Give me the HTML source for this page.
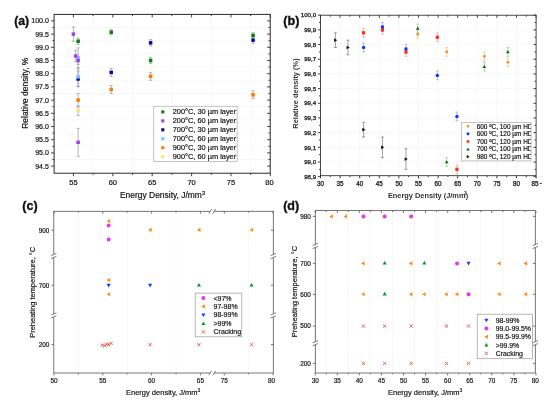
<!DOCTYPE html>
<html><head><meta charset="utf-8"><title>Figure</title>
<style>html,body{margin:0;padding:0;background:#fff}body{width:550px;height:402px;overflow:hidden}svg{display:block;filter:blur(0.4px)}</style>
</head><body>
<svg width="550" height="402" viewBox="0 0 550 402" font-family='"Liberation Sans", Arial, sans-serif'>
<rect width="550" height="402" fill="#fff"/>
<line x1="93.10" y1="14.40" x2="93.10" y2="173.20" stroke="#f1f1f1" stroke-width="0.6" />
<line x1="132.50" y1="14.40" x2="132.50" y2="173.20" stroke="#f1f1f1" stroke-width="0.6" />
<line x1="171.90" y1="14.40" x2="171.90" y2="173.20" stroke="#f1f1f1" stroke-width="0.6" />
<line x1="211.30" y1="14.40" x2="211.30" y2="173.20" stroke="#f1f1f1" stroke-width="0.6" />
<line x1="250.70" y1="14.40" x2="250.70" y2="173.20" stroke="#f1f1f1" stroke-width="0.6" />
<line x1="54.10" y1="27.50" x2="270.20" y2="27.50" stroke="#f1f1f1" stroke-width="0.6" />
<line x1="54.10" y1="40.70" x2="270.20" y2="40.70" stroke="#f1f1f1" stroke-width="0.6" />
<line x1="54.10" y1="53.90" x2="270.20" y2="53.90" stroke="#f1f1f1" stroke-width="0.6" />
<line x1="54.10" y1="67.10" x2="270.20" y2="67.10" stroke="#f1f1f1" stroke-width="0.6" />
<line x1="54.10" y1="80.30" x2="270.20" y2="80.30" stroke="#f1f1f1" stroke-width="0.6" />
<line x1="54.10" y1="93.50" x2="270.20" y2="93.50" stroke="#f1f1f1" stroke-width="0.6" />
<line x1="54.10" y1="106.70" x2="270.20" y2="106.70" stroke="#f1f1f1" stroke-width="0.6" />
<line x1="54.10" y1="119.90" x2="270.20" y2="119.90" stroke="#f1f1f1" stroke-width="0.6" />
<line x1="54.10" y1="133.10" x2="270.20" y2="133.10" stroke="#f1f1f1" stroke-width="0.6" />
<line x1="54.10" y1="146.30" x2="270.20" y2="146.30" stroke="#f1f1f1" stroke-width="0.6" />
<line x1="54.10" y1="159.50" x2="270.20" y2="159.50" stroke="#f1f1f1" stroke-width="0.6" />
<rect x="54.1" y="14.4" width="216.1" height="158.79999999999998" fill="none" stroke="#2a2a2a" stroke-width="1"/>
<line x1="73.40" y1="173.20" x2="73.40" y2="176.20" stroke="#2a2a2a" stroke-width="0.9" />
<line x1="73.40" y1="14.40" x2="73.40" y2="17.40" stroke="#2a2a2a" stroke-width="0.9" />
<text x="73.40" y="184.80" font-size="7.5" text-anchor="middle" font-weight="normal" fill="#111"  stroke="#111" stroke-width="0.18">55</text>
<line x1="93.10" y1="173.20" x2="93.10" y2="174.90" stroke="#2a2a2a" stroke-width="0.9" />
<line x1="93.10" y1="14.40" x2="93.10" y2="16.10" stroke="#2a2a2a" stroke-width="0.9" />
<line x1="112.80" y1="173.20" x2="112.80" y2="176.20" stroke="#2a2a2a" stroke-width="0.9" />
<line x1="112.80" y1="14.40" x2="112.80" y2="17.40" stroke="#2a2a2a" stroke-width="0.9" />
<text x="112.80" y="184.80" font-size="7.5" text-anchor="middle" font-weight="normal" fill="#111"  stroke="#111" stroke-width="0.18">60</text>
<line x1="132.50" y1="173.20" x2="132.50" y2="174.90" stroke="#2a2a2a" stroke-width="0.9" />
<line x1="132.50" y1="14.40" x2="132.50" y2="16.10" stroke="#2a2a2a" stroke-width="0.9" />
<line x1="152.20" y1="173.20" x2="152.20" y2="176.20" stroke="#2a2a2a" stroke-width="0.9" />
<line x1="152.20" y1="14.40" x2="152.20" y2="17.40" stroke="#2a2a2a" stroke-width="0.9" />
<text x="152.20" y="184.80" font-size="7.5" text-anchor="middle" font-weight="normal" fill="#111"  stroke="#111" stroke-width="0.18">65</text>
<line x1="171.90" y1="173.20" x2="171.90" y2="174.90" stroke="#2a2a2a" stroke-width="0.9" />
<line x1="171.90" y1="14.40" x2="171.90" y2="16.10" stroke="#2a2a2a" stroke-width="0.9" />
<line x1="191.60" y1="173.20" x2="191.60" y2="176.20" stroke="#2a2a2a" stroke-width="0.9" />
<line x1="191.60" y1="14.40" x2="191.60" y2="17.40" stroke="#2a2a2a" stroke-width="0.9" />
<text x="191.60" y="184.80" font-size="7.5" text-anchor="middle" font-weight="normal" fill="#111"  stroke="#111" stroke-width="0.18">70</text>
<line x1="211.30" y1="173.20" x2="211.30" y2="174.90" stroke="#2a2a2a" stroke-width="0.9" />
<line x1="211.30" y1="14.40" x2="211.30" y2="16.10" stroke="#2a2a2a" stroke-width="0.9" />
<line x1="231.00" y1="173.20" x2="231.00" y2="176.20" stroke="#2a2a2a" stroke-width="0.9" />
<line x1="231.00" y1="14.40" x2="231.00" y2="17.40" stroke="#2a2a2a" stroke-width="0.9" />
<text x="231.00" y="184.80" font-size="7.5" text-anchor="middle" font-weight="normal" fill="#111"  stroke="#111" stroke-width="0.18">75</text>
<line x1="250.70" y1="173.20" x2="250.70" y2="174.90" stroke="#2a2a2a" stroke-width="0.9" />
<line x1="250.70" y1="14.40" x2="250.70" y2="16.10" stroke="#2a2a2a" stroke-width="0.9" />
<line x1="270.40" y1="173.20" x2="270.40" y2="176.20" stroke="#2a2a2a" stroke-width="0.9" />
<line x1="270.40" y1="14.40" x2="270.40" y2="17.40" stroke="#2a2a2a" stroke-width="0.9" />
<text x="269.40" y="184.80" font-size="7.5" text-anchor="middle" font-weight="normal" fill="#111"  stroke="#111" stroke-width="0.18">80</text>
<line x1="51.10" y1="166.10" x2="54.10" y2="166.10" stroke="#2a2a2a" stroke-width="0.9" />
<line x1="267.20" y1="166.10" x2="270.20" y2="166.10" stroke="#2a2a2a" stroke-width="0.9" />
<text x="48.80" y="168.60" font-size="7.0" text-anchor="end" font-weight="normal" fill="#111"  stroke="#111" stroke-width="0.18">94.5</text>
<line x1="52.40" y1="159.50" x2="54.10" y2="159.50" stroke="#2a2a2a" stroke-width="0.9" />
<line x1="268.50" y1="159.50" x2="270.20" y2="159.50" stroke="#2a2a2a" stroke-width="0.9" />
<line x1="51.10" y1="152.90" x2="54.10" y2="152.90" stroke="#2a2a2a" stroke-width="0.9" />
<line x1="267.20" y1="152.90" x2="270.20" y2="152.90" stroke="#2a2a2a" stroke-width="0.9" />
<text x="48.80" y="155.40" font-size="7.0" text-anchor="end" font-weight="normal" fill="#111"  stroke="#111" stroke-width="0.18">95.0</text>
<line x1="52.40" y1="146.30" x2="54.10" y2="146.30" stroke="#2a2a2a" stroke-width="0.9" />
<line x1="268.50" y1="146.30" x2="270.20" y2="146.30" stroke="#2a2a2a" stroke-width="0.9" />
<line x1="51.10" y1="139.70" x2="54.10" y2="139.70" stroke="#2a2a2a" stroke-width="0.9" />
<line x1="267.20" y1="139.70" x2="270.20" y2="139.70" stroke="#2a2a2a" stroke-width="0.9" />
<text x="48.80" y="142.20" font-size="7.0" text-anchor="end" font-weight="normal" fill="#111"  stroke="#111" stroke-width="0.18">95.5</text>
<line x1="52.40" y1="133.10" x2="54.10" y2="133.10" stroke="#2a2a2a" stroke-width="0.9" />
<line x1="268.50" y1="133.10" x2="270.20" y2="133.10" stroke="#2a2a2a" stroke-width="0.9" />
<line x1="51.10" y1="126.50" x2="54.10" y2="126.50" stroke="#2a2a2a" stroke-width="0.9" />
<line x1="267.20" y1="126.50" x2="270.20" y2="126.50" stroke="#2a2a2a" stroke-width="0.9" />
<text x="48.80" y="129.00" font-size="7.0" text-anchor="end" font-weight="normal" fill="#111"  stroke="#111" stroke-width="0.18">96.0</text>
<line x1="52.40" y1="119.90" x2="54.10" y2="119.90" stroke="#2a2a2a" stroke-width="0.9" />
<line x1="268.50" y1="119.90" x2="270.20" y2="119.90" stroke="#2a2a2a" stroke-width="0.9" />
<line x1="51.10" y1="113.30" x2="54.10" y2="113.30" stroke="#2a2a2a" stroke-width="0.9" />
<line x1="267.20" y1="113.30" x2="270.20" y2="113.30" stroke="#2a2a2a" stroke-width="0.9" />
<text x="48.80" y="115.80" font-size="7.0" text-anchor="end" font-weight="normal" fill="#111"  stroke="#111" stroke-width="0.18">96.5</text>
<line x1="52.40" y1="106.70" x2="54.10" y2="106.70" stroke="#2a2a2a" stroke-width="0.9" />
<line x1="268.50" y1="106.70" x2="270.20" y2="106.70" stroke="#2a2a2a" stroke-width="0.9" />
<line x1="51.10" y1="100.10" x2="54.10" y2="100.10" stroke="#2a2a2a" stroke-width="0.9" />
<line x1="267.20" y1="100.10" x2="270.20" y2="100.10" stroke="#2a2a2a" stroke-width="0.9" />
<text x="48.80" y="102.60" font-size="7.0" text-anchor="end" font-weight="normal" fill="#111"  stroke="#111" stroke-width="0.18">97.0</text>
<line x1="52.40" y1="93.50" x2="54.10" y2="93.50" stroke="#2a2a2a" stroke-width="0.9" />
<line x1="268.50" y1="93.50" x2="270.20" y2="93.50" stroke="#2a2a2a" stroke-width="0.9" />
<line x1="51.10" y1="86.90" x2="54.10" y2="86.90" stroke="#2a2a2a" stroke-width="0.9" />
<line x1="267.20" y1="86.90" x2="270.20" y2="86.90" stroke="#2a2a2a" stroke-width="0.9" />
<text x="48.80" y="89.40" font-size="7.0" text-anchor="end" font-weight="normal" fill="#111"  stroke="#111" stroke-width="0.18">97.5</text>
<line x1="52.40" y1="80.30" x2="54.10" y2="80.30" stroke="#2a2a2a" stroke-width="0.9" />
<line x1="268.50" y1="80.30" x2="270.20" y2="80.30" stroke="#2a2a2a" stroke-width="0.9" />
<line x1="51.10" y1="73.70" x2="54.10" y2="73.70" stroke="#2a2a2a" stroke-width="0.9" />
<line x1="267.20" y1="73.70" x2="270.20" y2="73.70" stroke="#2a2a2a" stroke-width="0.9" />
<text x="48.80" y="76.20" font-size="7.0" text-anchor="end" font-weight="normal" fill="#111"  stroke="#111" stroke-width="0.18">98.0</text>
<line x1="52.40" y1="67.10" x2="54.10" y2="67.10" stroke="#2a2a2a" stroke-width="0.9" />
<line x1="268.50" y1="67.10" x2="270.20" y2="67.10" stroke="#2a2a2a" stroke-width="0.9" />
<line x1="51.10" y1="60.50" x2="54.10" y2="60.50" stroke="#2a2a2a" stroke-width="0.9" />
<line x1="267.20" y1="60.50" x2="270.20" y2="60.50" stroke="#2a2a2a" stroke-width="0.9" />
<text x="48.80" y="63.00" font-size="7.0" text-anchor="end" font-weight="normal" fill="#111"  stroke="#111" stroke-width="0.18">98.5</text>
<line x1="52.40" y1="53.90" x2="54.10" y2="53.90" stroke="#2a2a2a" stroke-width="0.9" />
<line x1="268.50" y1="53.90" x2="270.20" y2="53.90" stroke="#2a2a2a" stroke-width="0.9" />
<line x1="51.10" y1="47.30" x2="54.10" y2="47.30" stroke="#2a2a2a" stroke-width="0.9" />
<line x1="267.20" y1="47.30" x2="270.20" y2="47.30" stroke="#2a2a2a" stroke-width="0.9" />
<text x="48.80" y="49.80" font-size="7.0" text-anchor="end" font-weight="normal" fill="#111"  stroke="#111" stroke-width="0.18">99.0</text>
<line x1="52.40" y1="40.70" x2="54.10" y2="40.70" stroke="#2a2a2a" stroke-width="0.9" />
<line x1="268.50" y1="40.70" x2="270.20" y2="40.70" stroke="#2a2a2a" stroke-width="0.9" />
<line x1="51.10" y1="34.10" x2="54.10" y2="34.10" stroke="#2a2a2a" stroke-width="0.9" />
<line x1="267.20" y1="34.10" x2="270.20" y2="34.10" stroke="#2a2a2a" stroke-width="0.9" />
<text x="48.80" y="36.60" font-size="7.0" text-anchor="end" font-weight="normal" fill="#111"  stroke="#111" stroke-width="0.18">99.5</text>
<line x1="52.40" y1="27.50" x2="54.10" y2="27.50" stroke="#2a2a2a" stroke-width="0.9" />
<line x1="268.50" y1="27.50" x2="270.20" y2="27.50" stroke="#2a2a2a" stroke-width="0.9" />
<line x1="51.10" y1="20.90" x2="54.10" y2="20.90" stroke="#2a2a2a" stroke-width="0.9" />
<line x1="267.20" y1="20.90" x2="270.20" y2="20.90" stroke="#2a2a2a" stroke-width="0.9" />
<text x="48.80" y="23.40" font-size="7.0" text-anchor="end" font-weight="normal" fill="#111"  stroke="#111" stroke-width="0.18">100.0</text>
<text x="27.80" y="93.20" font-size="8.45" text-anchor="middle" font-weight="normal" fill="#111" transform="rotate(-90 27.80 93.20)"  stroke="#111" stroke-width="0.18">Relative density, %</text>
<text x="162.50" y="198.20" font-size="8.45" text-anchor="middle" font-weight="normal" fill="#111"  stroke="#111" stroke-width="0.18">Energy Density, J/mm<tspan font-size="5.6" dy="-3">3</tspan></text>
<text x="14.20" y="25.10" font-size="12.2" text-anchor="start" font-weight="bold" fill="#111" stroke="#111" stroke-width="0.35">(a)</text>
<path d="M78.13,38.06 L78.13,44.40 M76.53,38.06 L79.73,38.06 M76.53,44.40 L79.73,44.40" stroke="#9a9a9a" stroke-width="0.7" fill="none"/>
<path d="M111.22,29.61 L111.22,34.89 M109.62,29.61 L112.82,29.61 M109.62,34.89 L112.82,34.89" stroke="#9a9a9a" stroke-width="0.7" fill="none"/>
<path d="M150.62,57.33 L150.62,63.67 M149.02,57.33 L152.22,57.33 M149.02,63.67 L152.22,63.67" stroke="#9a9a9a" stroke-width="0.7" fill="none"/>
<path d="M253.06,32.78 L253.06,38.06 M251.46,32.78 L254.66,32.78 M251.46,38.06 L254.66,38.06" stroke="#9a9a9a" stroke-width="0.7" fill="none"/>
<path d="M78.13,71.06 L78.13,86.90 M76.53,71.06 L79.73,71.06 M76.53,86.90 L79.73,86.90" stroke="#9a9a9a" stroke-width="0.7" fill="none"/>
<path d="M111.22,68.42 L111.22,76.34 M109.62,68.42 L112.82,68.42 M109.62,76.34 L112.82,76.34" stroke="#9a9a9a" stroke-width="0.7" fill="none"/>
<path d="M150.62,39.64 L150.62,45.98 M149.02,39.64 L152.22,39.64 M149.02,45.98 L152.22,45.98" stroke="#9a9a9a" stroke-width="0.7" fill="none"/>
<path d="M253.06,36.74 L253.06,43.60 M251.46,36.74 L254.66,36.74 M251.46,43.60 L254.66,43.60" stroke="#9a9a9a" stroke-width="0.7" fill="none"/>
<path d="M78.13,93.50 L78.13,106.70 M76.53,93.50 L79.73,93.50 M76.53,106.70 L79.73,106.70" stroke="#9a9a9a" stroke-width="0.7" fill="none"/>
<path d="M111.22,85.58 L111.22,93.50 M109.62,85.58 L112.82,85.58 M109.62,93.50 L112.82,93.50" stroke="#9a9a9a" stroke-width="0.7" fill="none"/>
<path d="M150.62,72.38 L150.62,80.30 M149.02,72.38 L152.22,72.38 M149.02,80.30 L152.22,80.30" stroke="#9a9a9a" stroke-width="0.7" fill="none"/>
<path d="M253.06,90.86 L253.06,98.78 M251.46,90.86 L254.66,90.86 M251.46,98.78 L254.66,98.78" stroke="#9a9a9a" stroke-width="0.7" fill="none"/>
<path d="M78.13,105.91 L78.13,115.41 M76.53,105.91 L79.73,105.91 M76.53,115.41 L79.73,115.41" stroke="#9a9a9a" stroke-width="0.7" fill="none"/>
<path d="M78.13,47.83 L78.13,68.95 M76.53,47.83 L79.73,47.83 M76.53,68.95 L79.73,68.95" stroke="#9a9a9a" stroke-width="0.7" fill="none"/>
<path d="M78.13,67.63 L78.13,86.11 M76.53,67.63 L79.73,67.63 M76.53,86.11 L79.73,86.11" stroke="#9a9a9a" stroke-width="0.7" fill="none"/>
<path d="M73.40,26.97 L73.40,41.23 M71.80,26.97 L75.00,26.97 M71.80,41.23 L75.00,41.23" stroke="#9a9a9a" stroke-width="0.7" fill="none"/>
<path d="M75.76,50.20 L75.76,61.82 M74.16,50.20 L77.36,50.20 M74.16,61.82 L77.36,61.82" stroke="#9a9a9a" stroke-width="0.7" fill="none"/>
<path d="M78.13,56.54 L78.13,64.46 M76.53,56.54 L79.73,56.54 M76.53,64.46 L79.73,64.46" stroke="#9a9a9a" stroke-width="0.7" fill="none"/>
<path d="M78.13,128.35 L78.13,156.33 M76.53,128.35 L79.73,128.35 M76.53,156.33 L79.73,156.33" stroke="#9a9a9a" stroke-width="0.7" fill="none"/>
<rect x="76.38" y="39.48" width="3.50" height="3.50" fill="#0a7d14"/>
<rect x="109.47" y="30.50" width="3.50" height="3.50" fill="#0a7d14"/>
<rect x="148.87" y="58.75" width="3.50" height="3.50" fill="#0a7d14"/>
<rect x="251.31" y="33.67" width="3.50" height="3.50" fill="#0a7d14"/>
<rect x="76.38" y="77.23" width="3.50" height="3.50" fill="#0a0a96"/>
<rect x="109.47" y="70.63" width="3.50" height="3.50" fill="#0a0a96"/>
<rect x="148.87" y="41.06" width="3.50" height="3.50" fill="#0a0a96"/>
<rect x="251.31" y="38.42" width="3.50" height="3.50" fill="#0a0a96"/>
<rect x="76.38" y="98.35" width="3.50" height="3.50" fill="#ff7a00"/>
<rect x="109.47" y="87.79" width="3.50" height="3.50" fill="#ff7a00"/>
<rect x="148.87" y="74.59" width="3.50" height="3.50" fill="#ff7a00"/>
<rect x="251.31" y="93.07" width="3.50" height="3.50" fill="#ff7a00"/>
<rect x="76.38" y="108.91" width="3.50" height="3.50" fill="#f5e678"/>
<rect x="76.38" y="56.64" width="3.50" height="3.50" fill="#6cc8ff"/>
<rect x="76.38" y="75.12" width="3.50" height="3.50" fill="#6cc8ff"/>
<rect x="71.65" y="32.35" width="3.50" height="3.50" fill="#a23cf0"/>
<rect x="74.01" y="54.26" width="3.50" height="3.50" fill="#a23cf0"/>
<rect x="76.38" y="58.75" width="3.50" height="3.50" fill="#a23cf0"/>
<rect x="76.38" y="140.59" width="3.50" height="3.50" fill="#a23cf0"/>
<rect x="153.7" y="106.3" width="83.4" height="55.2" fill="#fff" stroke="#b5b5b5" stroke-width="0.8"/>
<rect x="161.25" y="110.35" width="3.10" height="3.10" fill="#0a7d14"/>
<text x="172.70" y="114.40" font-size="7.4" text-anchor="start" font-weight="normal" fill="#111"  stroke="#111" stroke-width="0.18">200°C, 30 µm layer</text>
<rect x="161.25" y="119.30" width="3.10" height="3.10" fill="#a23cf0"/>
<text x="172.70" y="123.35" font-size="7.4" text-anchor="start" font-weight="normal" fill="#111"  stroke="#111" stroke-width="0.18">200°C, 60 µm layer</text>
<rect x="161.25" y="128.25" width="3.10" height="3.10" fill="#0a0a96"/>
<text x="172.70" y="132.30" font-size="7.4" text-anchor="start" font-weight="normal" fill="#111"  stroke="#111" stroke-width="0.18">700°C, 30 µm layer</text>
<rect x="161.25" y="137.20" width="3.10" height="3.10" fill="#6cc8ff"/>
<text x="172.70" y="141.25" font-size="7.4" text-anchor="start" font-weight="normal" fill="#111"  stroke="#111" stroke-width="0.18">700°C, 60 µm layer</text>
<rect x="161.25" y="146.15" width="3.10" height="3.10" fill="#ff7a00"/>
<text x="172.70" y="150.20" font-size="7.4" text-anchor="start" font-weight="normal" fill="#111"  stroke="#111" stroke-width="0.18">900°C, 30 µm layer</text>
<rect x="161.25" y="155.10" width="3.10" height="3.10" fill="#f5e678"/>
<text x="172.70" y="159.15" font-size="7.4" text-anchor="start" font-weight="normal" fill="#111"  stroke="#111" stroke-width="0.18">900°C, 60 µm layer</text>
<line x1="340.10" y1="15.20" x2="340.10" y2="175.70" stroke="#f1f1f1" stroke-width="0.6" />
<line x1="359.70" y1="15.20" x2="359.70" y2="175.70" stroke="#f1f1f1" stroke-width="0.6" />
<line x1="379.30" y1="15.20" x2="379.30" y2="175.70" stroke="#f1f1f1" stroke-width="0.6" />
<line x1="398.90" y1="15.20" x2="398.90" y2="175.70" stroke="#f1f1f1" stroke-width="0.6" />
<line x1="418.50" y1="15.20" x2="418.50" y2="175.70" stroke="#f1f1f1" stroke-width="0.6" />
<line x1="438.10" y1="15.20" x2="438.10" y2="175.70" stroke="#f1f1f1" stroke-width="0.6" />
<line x1="457.70" y1="15.20" x2="457.70" y2="175.70" stroke="#f1f1f1" stroke-width="0.6" />
<line x1="477.30" y1="15.20" x2="477.30" y2="175.70" stroke="#f1f1f1" stroke-width="0.6" />
<line x1="496.90" y1="15.20" x2="496.90" y2="175.70" stroke="#f1f1f1" stroke-width="0.6" />
<line x1="516.50" y1="15.20" x2="516.50" y2="175.70" stroke="#f1f1f1" stroke-width="0.6" />
<line x1="320.50" y1="29.88" x2="536.10" y2="29.88" stroke="#f1f1f1" stroke-width="0.6" />
<line x1="320.50" y1="44.56" x2="536.10" y2="44.56" stroke="#f1f1f1" stroke-width="0.6" />
<line x1="320.50" y1="59.24" x2="536.10" y2="59.24" stroke="#f1f1f1" stroke-width="0.6" />
<line x1="320.50" y1="73.92" x2="536.10" y2="73.92" stroke="#f1f1f1" stroke-width="0.6" />
<line x1="320.50" y1="88.60" x2="536.10" y2="88.60" stroke="#f1f1f1" stroke-width="0.6" />
<line x1="320.50" y1="103.28" x2="536.10" y2="103.28" stroke="#f1f1f1" stroke-width="0.6" />
<line x1="320.50" y1="117.96" x2="536.10" y2="117.96" stroke="#f1f1f1" stroke-width="0.6" />
<line x1="320.50" y1="132.64" x2="536.10" y2="132.64" stroke="#f1f1f1" stroke-width="0.6" />
<line x1="320.50" y1="147.32" x2="536.10" y2="147.32" stroke="#f1f1f1" stroke-width="0.6" />
<line x1="320.50" y1="162.00" x2="536.10" y2="162.00" stroke="#f1f1f1" stroke-width="0.6" />
<rect x="320.5" y="15.2" width="215.60000000000002" height="160.5" fill="none" stroke="#2a2a2a" stroke-width="0.85"/>
<line x1="320.50" y1="175.70" x2="320.50" y2="178.30" stroke="#2a2a2a" stroke-width="0.9" />
<line x1="320.50" y1="15.20" x2="320.50" y2="17.80" stroke="#2a2a2a" stroke-width="0.9" />
<text x="320.50" y="185.70" font-size="6.3" text-anchor="middle" font-weight="normal" fill="#111" stroke="#111" stroke-width="0.25">30</text>
<line x1="330.30" y1="175.70" x2="330.30" y2="177.20" stroke="#2a2a2a" stroke-width="0.9" />
<line x1="330.30" y1="15.20" x2="330.30" y2="16.70" stroke="#2a2a2a" stroke-width="0.9" />
<line x1="340.10" y1="175.70" x2="340.10" y2="178.30" stroke="#2a2a2a" stroke-width="0.9" />
<line x1="340.10" y1="15.20" x2="340.10" y2="17.80" stroke="#2a2a2a" stroke-width="0.9" />
<text x="340.10" y="185.70" font-size="6.3" text-anchor="middle" font-weight="normal" fill="#111" stroke="#111" stroke-width="0.25">35</text>
<line x1="349.90" y1="175.70" x2="349.90" y2="177.20" stroke="#2a2a2a" stroke-width="0.9" />
<line x1="349.90" y1="15.20" x2="349.90" y2="16.70" stroke="#2a2a2a" stroke-width="0.9" />
<line x1="359.70" y1="175.70" x2="359.70" y2="178.30" stroke="#2a2a2a" stroke-width="0.9" />
<line x1="359.70" y1="15.20" x2="359.70" y2="17.80" stroke="#2a2a2a" stroke-width="0.9" />
<text x="359.70" y="185.70" font-size="6.3" text-anchor="middle" font-weight="normal" fill="#111" stroke="#111" stroke-width="0.25">40</text>
<line x1="369.50" y1="175.70" x2="369.50" y2="177.20" stroke="#2a2a2a" stroke-width="0.9" />
<line x1="369.50" y1="15.20" x2="369.50" y2="16.70" stroke="#2a2a2a" stroke-width="0.9" />
<line x1="379.30" y1="175.70" x2="379.30" y2="178.30" stroke="#2a2a2a" stroke-width="0.9" />
<line x1="379.30" y1="15.20" x2="379.30" y2="17.80" stroke="#2a2a2a" stroke-width="0.9" />
<text x="379.30" y="185.70" font-size="6.3" text-anchor="middle" font-weight="normal" fill="#111" stroke="#111" stroke-width="0.25">45</text>
<line x1="389.10" y1="175.70" x2="389.10" y2="177.20" stroke="#2a2a2a" stroke-width="0.9" />
<line x1="389.10" y1="15.20" x2="389.10" y2="16.70" stroke="#2a2a2a" stroke-width="0.9" />
<line x1="398.90" y1="175.70" x2="398.90" y2="178.30" stroke="#2a2a2a" stroke-width="0.9" />
<line x1="398.90" y1="15.20" x2="398.90" y2="17.80" stroke="#2a2a2a" stroke-width="0.9" />
<text x="398.90" y="185.70" font-size="6.3" text-anchor="middle" font-weight="normal" fill="#111" stroke="#111" stroke-width="0.25">50</text>
<line x1="408.70" y1="175.70" x2="408.70" y2="177.20" stroke="#2a2a2a" stroke-width="0.9" />
<line x1="408.70" y1="15.20" x2="408.70" y2="16.70" stroke="#2a2a2a" stroke-width="0.9" />
<line x1="418.50" y1="175.70" x2="418.50" y2="178.30" stroke="#2a2a2a" stroke-width="0.9" />
<line x1="418.50" y1="15.20" x2="418.50" y2="17.80" stroke="#2a2a2a" stroke-width="0.9" />
<text x="418.50" y="185.70" font-size="6.3" text-anchor="middle" font-weight="normal" fill="#111" stroke="#111" stroke-width="0.25">55</text>
<line x1="428.30" y1="175.70" x2="428.30" y2="177.20" stroke="#2a2a2a" stroke-width="0.9" />
<line x1="428.30" y1="15.20" x2="428.30" y2="16.70" stroke="#2a2a2a" stroke-width="0.9" />
<line x1="438.10" y1="175.70" x2="438.10" y2="178.30" stroke="#2a2a2a" stroke-width="0.9" />
<line x1="438.10" y1="15.20" x2="438.10" y2="17.80" stroke="#2a2a2a" stroke-width="0.9" />
<text x="438.10" y="185.70" font-size="6.3" text-anchor="middle" font-weight="normal" fill="#111" stroke="#111" stroke-width="0.25">60</text>
<line x1="447.90" y1="175.70" x2="447.90" y2="177.20" stroke="#2a2a2a" stroke-width="0.9" />
<line x1="447.90" y1="15.20" x2="447.90" y2="16.70" stroke="#2a2a2a" stroke-width="0.9" />
<line x1="457.70" y1="175.70" x2="457.70" y2="178.30" stroke="#2a2a2a" stroke-width="0.9" />
<line x1="457.70" y1="15.20" x2="457.70" y2="17.80" stroke="#2a2a2a" stroke-width="0.9" />
<text x="457.70" y="185.70" font-size="6.3" text-anchor="middle" font-weight="normal" fill="#111" stroke="#111" stroke-width="0.25">65</text>
<line x1="467.50" y1="175.70" x2="467.50" y2="177.20" stroke="#2a2a2a" stroke-width="0.9" />
<line x1="467.50" y1="15.20" x2="467.50" y2="16.70" stroke="#2a2a2a" stroke-width="0.9" />
<line x1="477.30" y1="175.70" x2="477.30" y2="178.30" stroke="#2a2a2a" stroke-width="0.9" />
<line x1="477.30" y1="15.20" x2="477.30" y2="17.80" stroke="#2a2a2a" stroke-width="0.9" />
<text x="477.30" y="185.70" font-size="6.3" text-anchor="middle" font-weight="normal" fill="#111" stroke="#111" stroke-width="0.25">70</text>
<line x1="487.10" y1="175.70" x2="487.10" y2="177.20" stroke="#2a2a2a" stroke-width="0.9" />
<line x1="487.10" y1="15.20" x2="487.10" y2="16.70" stroke="#2a2a2a" stroke-width="0.9" />
<line x1="496.90" y1="175.70" x2="496.90" y2="178.30" stroke="#2a2a2a" stroke-width="0.9" />
<line x1="496.90" y1="15.20" x2="496.90" y2="17.80" stroke="#2a2a2a" stroke-width="0.9" />
<text x="496.90" y="185.70" font-size="6.3" text-anchor="middle" font-weight="normal" fill="#111" stroke="#111" stroke-width="0.25">75</text>
<line x1="506.70" y1="175.70" x2="506.70" y2="177.20" stroke="#2a2a2a" stroke-width="0.9" />
<line x1="506.70" y1="15.20" x2="506.70" y2="16.70" stroke="#2a2a2a" stroke-width="0.9" />
<line x1="516.50" y1="175.70" x2="516.50" y2="178.30" stroke="#2a2a2a" stroke-width="0.9" />
<line x1="516.50" y1="15.20" x2="516.50" y2="17.80" stroke="#2a2a2a" stroke-width="0.9" />
<text x="516.50" y="185.70" font-size="6.3" text-anchor="middle" font-weight="normal" fill="#111" stroke="#111" stroke-width="0.25">80</text>
<line x1="526.30" y1="175.70" x2="526.30" y2="177.20" stroke="#2a2a2a" stroke-width="0.9" />
<line x1="526.30" y1="15.20" x2="526.30" y2="16.70" stroke="#2a2a2a" stroke-width="0.9" />
<line x1="536.10" y1="175.70" x2="536.10" y2="178.30" stroke="#2a2a2a" stroke-width="0.9" />
<line x1="536.10" y1="15.20" x2="536.10" y2="17.80" stroke="#2a2a2a" stroke-width="0.9" />
<text x="535.10" y="185.70" font-size="6.3" text-anchor="middle" font-weight="normal" fill="#111" stroke="#111" stroke-width="0.25">85</text>
<line x1="539.70" y1="183.40" x2="541.90" y2="183.40" stroke="#2a2a2a" stroke-width="0.9" />
<line x1="317.90" y1="176.68" x2="320.50" y2="176.68" stroke="#2a2a2a" stroke-width="0.9" />
<line x1="533.50" y1="176.68" x2="536.10" y2="176.68" stroke="#2a2a2a" stroke-width="0.9" />
<text x="316.20" y="178.88" font-size="6.2" text-anchor="end" font-weight="normal" fill="#111" stroke="#111" stroke-width="0.25">98,9</text>
<line x1="319.00" y1="169.34" x2="320.50" y2="169.34" stroke="#2a2a2a" stroke-width="0.9" />
<line x1="534.60" y1="169.34" x2="536.10" y2="169.34" stroke="#2a2a2a" stroke-width="0.9" />
<line x1="317.90" y1="162.00" x2="320.50" y2="162.00" stroke="#2a2a2a" stroke-width="0.9" />
<line x1="533.50" y1="162.00" x2="536.10" y2="162.00" stroke="#2a2a2a" stroke-width="0.9" />
<text x="316.20" y="164.20" font-size="6.2" text-anchor="end" font-weight="normal" fill="#111" stroke="#111" stroke-width="0.25">99,0</text>
<line x1="319.00" y1="154.66" x2="320.50" y2="154.66" stroke="#2a2a2a" stroke-width="0.9" />
<line x1="534.60" y1="154.66" x2="536.10" y2="154.66" stroke="#2a2a2a" stroke-width="0.9" />
<line x1="317.90" y1="147.32" x2="320.50" y2="147.32" stroke="#2a2a2a" stroke-width="0.9" />
<line x1="533.50" y1="147.32" x2="536.10" y2="147.32" stroke="#2a2a2a" stroke-width="0.9" />
<text x="316.20" y="149.52" font-size="6.2" text-anchor="end" font-weight="normal" fill="#111" stroke="#111" stroke-width="0.25">99,1</text>
<line x1="319.00" y1="139.98" x2="320.50" y2="139.98" stroke="#2a2a2a" stroke-width="0.9" />
<line x1="534.60" y1="139.98" x2="536.10" y2="139.98" stroke="#2a2a2a" stroke-width="0.9" />
<line x1="317.90" y1="132.64" x2="320.50" y2="132.64" stroke="#2a2a2a" stroke-width="0.9" />
<line x1="533.50" y1="132.64" x2="536.10" y2="132.64" stroke="#2a2a2a" stroke-width="0.9" />
<text x="316.20" y="134.84" font-size="6.2" text-anchor="end" font-weight="normal" fill="#111" stroke="#111" stroke-width="0.25">99,2</text>
<line x1="319.00" y1="125.30" x2="320.50" y2="125.30" stroke="#2a2a2a" stroke-width="0.9" />
<line x1="534.60" y1="125.30" x2="536.10" y2="125.30" stroke="#2a2a2a" stroke-width="0.9" />
<line x1="317.90" y1="117.96" x2="320.50" y2="117.96" stroke="#2a2a2a" stroke-width="0.9" />
<line x1="533.50" y1="117.96" x2="536.10" y2="117.96" stroke="#2a2a2a" stroke-width="0.9" />
<text x="316.20" y="120.16" font-size="6.2" text-anchor="end" font-weight="normal" fill="#111" stroke="#111" stroke-width="0.25">99,3</text>
<line x1="319.00" y1="110.62" x2="320.50" y2="110.62" stroke="#2a2a2a" stroke-width="0.9" />
<line x1="534.60" y1="110.62" x2="536.10" y2="110.62" stroke="#2a2a2a" stroke-width="0.9" />
<line x1="317.90" y1="103.28" x2="320.50" y2="103.28" stroke="#2a2a2a" stroke-width="0.9" />
<line x1="533.50" y1="103.28" x2="536.10" y2="103.28" stroke="#2a2a2a" stroke-width="0.9" />
<text x="316.20" y="105.48" font-size="6.2" text-anchor="end" font-weight="normal" fill="#111" stroke="#111" stroke-width="0.25">99,4</text>
<line x1="319.00" y1="95.94" x2="320.50" y2="95.94" stroke="#2a2a2a" stroke-width="0.9" />
<line x1="534.60" y1="95.94" x2="536.10" y2="95.94" stroke="#2a2a2a" stroke-width="0.9" />
<line x1="317.90" y1="88.60" x2="320.50" y2="88.60" stroke="#2a2a2a" stroke-width="0.9" />
<line x1="533.50" y1="88.60" x2="536.10" y2="88.60" stroke="#2a2a2a" stroke-width="0.9" />
<text x="316.20" y="90.80" font-size="6.2" text-anchor="end" font-weight="normal" fill="#111" stroke="#111" stroke-width="0.25">99,5</text>
<line x1="319.00" y1="81.26" x2="320.50" y2="81.26" stroke="#2a2a2a" stroke-width="0.9" />
<line x1="534.60" y1="81.26" x2="536.10" y2="81.26" stroke="#2a2a2a" stroke-width="0.9" />
<line x1="317.90" y1="73.92" x2="320.50" y2="73.92" stroke="#2a2a2a" stroke-width="0.9" />
<line x1="533.50" y1="73.92" x2="536.10" y2="73.92" stroke="#2a2a2a" stroke-width="0.9" />
<text x="316.20" y="76.12" font-size="6.2" text-anchor="end" font-weight="normal" fill="#111" stroke="#111" stroke-width="0.25">99,6</text>
<line x1="319.00" y1="66.58" x2="320.50" y2="66.58" stroke="#2a2a2a" stroke-width="0.9" />
<line x1="534.60" y1="66.58" x2="536.10" y2="66.58" stroke="#2a2a2a" stroke-width="0.9" />
<line x1="317.90" y1="59.24" x2="320.50" y2="59.24" stroke="#2a2a2a" stroke-width="0.9" />
<line x1="533.50" y1="59.24" x2="536.10" y2="59.24" stroke="#2a2a2a" stroke-width="0.9" />
<text x="316.20" y="61.44" font-size="6.2" text-anchor="end" font-weight="normal" fill="#111" stroke="#111" stroke-width="0.25">99,7</text>
<line x1="319.00" y1="51.90" x2="320.50" y2="51.90" stroke="#2a2a2a" stroke-width="0.9" />
<line x1="534.60" y1="51.90" x2="536.10" y2="51.90" stroke="#2a2a2a" stroke-width="0.9" />
<line x1="317.90" y1="44.56" x2="320.50" y2="44.56" stroke="#2a2a2a" stroke-width="0.9" />
<line x1="533.50" y1="44.56" x2="536.10" y2="44.56" stroke="#2a2a2a" stroke-width="0.9" />
<text x="316.20" y="46.76" font-size="6.2" text-anchor="end" font-weight="normal" fill="#111" stroke="#111" stroke-width="0.25">99,8</text>
<line x1="319.00" y1="37.22" x2="320.50" y2="37.22" stroke="#2a2a2a" stroke-width="0.9" />
<line x1="534.60" y1="37.22" x2="536.10" y2="37.22" stroke="#2a2a2a" stroke-width="0.9" />
<line x1="317.90" y1="29.88" x2="320.50" y2="29.88" stroke="#2a2a2a" stroke-width="0.9" />
<line x1="533.50" y1="29.88" x2="536.10" y2="29.88" stroke="#2a2a2a" stroke-width="0.9" />
<text x="316.20" y="32.08" font-size="6.2" text-anchor="end" font-weight="normal" fill="#111" stroke="#111" stroke-width="0.25">99,9</text>
<line x1="319.00" y1="22.54" x2="320.50" y2="22.54" stroke="#2a2a2a" stroke-width="0.9" />
<line x1="534.60" y1="22.54" x2="536.10" y2="22.54" stroke="#2a2a2a" stroke-width="0.9" />
<line x1="317.90" y1="15.20" x2="320.50" y2="15.20" stroke="#2a2a2a" stroke-width="0.9" />
<line x1="533.50" y1="15.20" x2="536.10" y2="15.20" stroke="#2a2a2a" stroke-width="0.9" />
<text x="316.20" y="17.40" font-size="6.2" text-anchor="end" font-weight="normal" fill="#111" stroke="#111" stroke-width="0.25">100,0</text>
<text x="297.50" y="93.50" font-size="7.45" text-anchor="middle" font-weight="bold" fill="#333" transform="rotate(-90 297.50 93.50)" >Relative density (%)</text>
<text x="428.00" y="198.10" font-size="7.4" text-anchor="middle" font-weight="bold" fill="#333" >Energy Density (J/mm<tspan font-size="5" dy="-3" dx="-1.5">3</tspan><tspan dy="3" dx="-1.2">)</tspan></text>
<text x="283.30" y="25.10" font-size="12.6" text-anchor="start" font-weight="bold" fill="#111" stroke="#111" stroke-width="0.35">(b)</text>
<path d="M335.40,32.82 L335.40,47.50 M333.90,32.82 L336.90,32.82 M333.90,47.50 L336.90,47.50" stroke="#777" stroke-width="0.7" fill="none"/>
<path d="M347.94,40.16 L347.94,54.84 M346.44,40.16 L349.44,40.16 M346.44,54.84 L349.44,54.84" stroke="#777" stroke-width="0.7" fill="none"/>
<path d="M363.62,122.36 L363.62,137.04 M362.12,122.36 L365.12,122.36 M362.12,137.04 L365.12,137.04" stroke="#777" stroke-width="0.7" fill="none"/>
<path d="M382.44,137.04 L382.44,157.60 M380.94,137.04 L383.94,137.04 M380.94,157.60 L383.94,157.60" stroke="#777" stroke-width="0.7" fill="none"/>
<path d="M405.96,148.79 L405.96,169.34 M404.46,148.79 L407.46,148.79 M404.46,169.34 L407.46,169.34" stroke="#777" stroke-width="0.7" fill="none"/>
<path d="M363.62,28.41 L363.62,37.22 M362.12,28.41 L365.12,28.41 M362.12,37.22 L365.12,37.22" stroke="#f3a59c" stroke-width="0.7" fill="none"/>
<path d="M382.44,25.48 L382.44,34.28 M380.94,25.48 L383.94,25.48 M380.94,34.28 L383.94,34.28" stroke="#f3a59c" stroke-width="0.7" fill="none"/>
<path d="M405.96,47.50 L405.96,56.30 M404.46,47.50 L407.46,47.50 M404.46,56.30 L407.46,56.30" stroke="#f3a59c" stroke-width="0.7" fill="none"/>
<path d="M437.32,32.82 L437.32,41.62 M435.82,32.82 L438.82,32.82 M435.82,41.62 L438.82,41.62" stroke="#f3a59c" stroke-width="0.7" fill="none"/>
<path d="M456.92,164.94 L456.92,173.74 M455.42,164.94 L458.42,164.94 M455.42,173.74 L458.42,173.74" stroke="#f3a59c" stroke-width="0.7" fill="none"/>
<path d="M363.62,43.09 L363.62,51.90 M362.12,43.09 L365.12,43.09 M362.12,51.90 L365.12,51.90" stroke="#9aa6f5" stroke-width="0.7" fill="none"/>
<path d="M382.44,22.54 L382.44,31.35 M380.94,22.54 L383.94,22.54 M380.94,31.35 L383.94,31.35" stroke="#9aa6f5" stroke-width="0.7" fill="none"/>
<path d="M405.96,44.56 L405.96,53.37 M404.46,44.56 L407.46,44.56 M404.46,53.37 L407.46,53.37" stroke="#9aa6f5" stroke-width="0.7" fill="none"/>
<path d="M437.32,70.98 L437.32,79.79 M435.82,70.98 L438.82,70.98 M435.82,79.79 L438.82,79.79" stroke="#9aa6f5" stroke-width="0.7" fill="none"/>
<path d="M456.92,112.09 L456.92,120.90 M455.42,112.09 L458.42,112.09 M455.42,120.90 L458.42,120.90" stroke="#9aa6f5" stroke-width="0.7" fill="none"/>
<path d="M417.72,29.88 L417.72,38.69 M416.22,29.88 L419.22,29.88 M416.22,38.69 L419.22,38.69" stroke="#f2c48f" stroke-width="0.7" fill="none"/>
<path d="M446.72,47.50 L446.72,56.30 M445.22,47.50 L448.22,47.50 M445.22,56.30 L448.22,56.30" stroke="#f2c48f" stroke-width="0.7" fill="none"/>
<path d="M484.36,51.90 L484.36,60.71 M482.86,51.90 L485.86,51.90 M482.86,60.71 L485.86,60.71" stroke="#f2c48f" stroke-width="0.7" fill="none"/>
<path d="M507.88,57.77 L507.88,66.58 M506.38,57.77 L509.38,57.77 M506.38,66.58 L509.38,66.58" stroke="#f2c48f" stroke-width="0.7" fill="none"/>
<path d="M417.72,24.01 L417.72,32.82 M416.22,24.01 L419.22,24.01 M416.22,32.82 L419.22,32.82" stroke="#9cc6a0" stroke-width="0.7" fill="none"/>
<path d="M446.72,157.60 L446.72,166.40 M445.22,157.60 L448.22,157.60 M445.22,166.40 L448.22,166.40" stroke="#9cc6a0" stroke-width="0.7" fill="none"/>
<path d="M484.36,62.18 L484.36,70.98 M482.86,62.18 L485.86,62.18 M482.86,70.98 L485.86,70.98" stroke="#9cc6a0" stroke-width="0.7" fill="none"/>
<path d="M507.88,47.50 L507.88,56.30 M506.38,47.50 L509.38,47.50 M506.38,56.30 L509.38,56.30" stroke="#9cc6a0" stroke-width="0.7" fill="none"/>
<polygon points="337.24,40.16 334.04,38.32 334.04,42.00" fill="#111"/>
<polygon points="349.78,47.50 346.58,45.66 346.58,49.34" fill="#111"/>
<polygon points="365.46,129.70 362.26,127.86 362.26,131.54" fill="#111"/>
<polygon points="384.28,147.32 381.08,145.48 381.08,149.16" fill="#111"/>
<polygon points="407.80,159.06 404.60,157.22 404.60,160.90" fill="#111"/>
<rect x="362.02" y="31.22" width="3.20" height="3.20" fill="#ff2a1a"/>
<rect x="380.84" y="28.28" width="3.20" height="3.20" fill="#ff2a1a"/>
<rect x="404.36" y="50.30" width="3.20" height="3.20" fill="#ff2a1a"/>
<rect x="435.72" y="35.62" width="3.20" height="3.20" fill="#ff2a1a"/>
<rect x="455.32" y="167.74" width="3.20" height="3.20" fill="#ff2a1a"/>
<circle cx="363.62" cy="47.50" r="1.70" fill="#1030ff"/>
<circle cx="382.44" cy="26.94" r="1.70" fill="#1030ff"/>
<circle cx="405.96" cy="48.96" r="1.70" fill="#1030ff"/>
<circle cx="437.32" cy="75.39" r="1.70" fill="#1030ff"/>
<circle cx="456.92" cy="116.49" r="1.70" fill="#1030ff"/>
<polygon points="417.72,35.88 416.19,34.78 416.78,32.99 418.66,32.99 419.24,34.78" fill="#f58a1f"/>
<polygon points="446.72,53.50 445.20,52.39 445.78,50.61 447.66,50.61 448.25,52.39" fill="#f58a1f"/>
<polygon points="484.36,57.90 482.83,56.80 483.42,55.01 485.30,55.01 485.88,56.80" fill="#f58a1f"/>
<polygon points="507.88,63.78 506.35,62.67 506.94,60.88 508.82,60.88 509.40,62.67" fill="#f58a1f"/>
<polygon points="417.72,26.57 419.56,29.77 415.88,29.77" fill="#0a6d14"/>
<polygon points="446.72,160.16 448.56,163.36 444.88,163.36" fill="#0a6d14"/>
<polygon points="484.36,64.74 486.20,67.94 482.52,67.94" fill="#0a6d14"/>
<polygon points="507.88,50.06 509.72,53.26 506.04,53.26" fill="#0a6d14"/>
<rect x="461.4" y="122.6" width="69.7" height="38.3" fill="#fff" stroke="#b5b5b5" stroke-width="0.8"/>
<clipPath id="clb"><rect x="461.4" y="122.6" width="69.5" height="38.3"/></clipPath>
<g clip-path="url(#clb)">
<polygon points="468.00,127.70 466.57,126.66 467.12,124.99 468.88,124.99 469.43,126.66" fill="#f58a1f"/>
<text x="476.70" y="128.50" font-size="6.45" text-anchor="start" font-weight="normal" fill="#111"  stroke="#111" stroke-width="0.18">600 ºC, 100 µm HD</text>
<circle cx="468.00" cy="133.85" r="1.50" fill="#1030ff"/>
<text x="476.70" y="136.15" font-size="6.45" text-anchor="start" font-weight="normal" fill="#111"  stroke="#111" stroke-width="0.18">600 ºC, 120 µm HD</text>
<rect x="466.70" y="140.20" width="2.60" height="2.60" fill="#ff2a1a"/>
<text x="476.70" y="143.80" font-size="6.45" text-anchor="start" font-weight="normal" fill="#111"  stroke="#111" stroke-width="0.18">700 ºC, 120 µm HD</text>
<polygon points="468.00,147.43 469.73,150.43 466.27,150.43" fill="#0a6d14"/>
<text x="476.70" y="151.45" font-size="6.45" text-anchor="start" font-weight="normal" fill="#111"  stroke="#111" stroke-width="0.18">700 ºC, 100 µm HD</text>
<polygon points="469.73,156.80 466.73,155.08 466.73,158.53" fill="#111"/>
<text x="476.70" y="159.10" font-size="6.45" text-anchor="start" font-weight="normal" fill="#111"  stroke="#111" stroke-width="0.18">980 ºC, 120 µm HD</text>
</g>
<line x1="78.40" y1="211.30" x2="78.40" y2="373.00" stroke="#f1f1f1" stroke-width="0.6" />
<line x1="127.20" y1="211.30" x2="127.20" y2="373.00" stroke="#f1f1f1" stroke-width="0.6" />
<line x1="176.00" y1="211.30" x2="176.00" y2="373.00" stroke="#f1f1f1" stroke-width="0.6" />
<line x1="248.65" y1="211.30" x2="248.65" y2="373.00" stroke="#f1f1f1" stroke-width="0.6" />
<rect x="53.8" y="211.3" width="219.5" height="161.7" fill="none" stroke="#555" stroke-width="0.8"/>
<rect x="210.00" y="210.30" width="4.4" height="2" fill="#fff"/>
<line x1="208.80" y1="213.50" x2="211.60" y2="209.10" stroke="#555" stroke-width="0.8" />
<line x1="212.80" y1="213.50" x2="215.60" y2="209.10" stroke="#555" stroke-width="0.8" />
<rect x="210.00" y="372.00" width="4.4" height="2" fill="#fff"/>
<line x1="208.80" y1="375.20" x2="211.60" y2="370.80" stroke="#555" stroke-width="0.8" />
<line x1="212.80" y1="375.20" x2="215.60" y2="370.80" stroke="#555" stroke-width="0.8" />
<rect x="52.80" y="254.20" width="2" height="3.6" fill="#fff"/>
<line x1="51.20" y1="255.60" x2="56.40" y2="253.40" stroke="#555" stroke-width="0.8" />
<line x1="51.20" y1="258.60" x2="56.40" y2="256.40" stroke="#555" stroke-width="0.8" />
<rect x="272.30" y="254.20" width="2" height="3.6" fill="#fff"/>
<line x1="270.70" y1="255.60" x2="275.90" y2="253.40" stroke="#555" stroke-width="0.8" />
<line x1="270.70" y1="258.60" x2="275.90" y2="256.40" stroke="#555" stroke-width="0.8" />
<rect x="52.80" y="313.60" width="2" height="3.6" fill="#fff"/>
<line x1="51.20" y1="315.00" x2="56.40" y2="312.80" stroke="#555" stroke-width="0.8" />
<line x1="51.20" y1="318.00" x2="56.40" y2="315.80" stroke="#555" stroke-width="0.8" />
<rect x="272.30" y="313.60" width="2" height="3.6" fill="#fff"/>
<line x1="270.70" y1="315.00" x2="275.90" y2="312.80" stroke="#555" stroke-width="0.8" />
<line x1="270.70" y1="318.00" x2="275.90" y2="315.80" stroke="#555" stroke-width="0.8" />
<line x1="54.00" y1="373.00" x2="54.00" y2="375.40" stroke="#555" stroke-width="0.8" />
<line x1="54.00" y1="211.30" x2="54.00" y2="213.70" stroke="#555" stroke-width="0.8" />
<text x="54.00" y="383.00" font-size="6.4" text-anchor="middle" font-weight="normal" fill="#141414"  stroke="#141414" stroke-width="0.18">50</text>
<line x1="78.40" y1="373.00" x2="78.40" y2="374.40" stroke="#555" stroke-width="0.8" />
<line x1="78.40" y1="211.30" x2="78.40" y2="212.70" stroke="#555" stroke-width="0.8" />
<line x1="102.80" y1="373.00" x2="102.80" y2="375.40" stroke="#555" stroke-width="0.8" />
<line x1="102.80" y1="211.30" x2="102.80" y2="213.70" stroke="#555" stroke-width="0.8" />
<text x="102.80" y="383.00" font-size="6.4" text-anchor="middle" font-weight="normal" fill="#141414"  stroke="#141414" stroke-width="0.18">55</text>
<line x1="127.20" y1="373.00" x2="127.20" y2="374.40" stroke="#555" stroke-width="0.8" />
<line x1="127.20" y1="211.30" x2="127.20" y2="212.70" stroke="#555" stroke-width="0.8" />
<line x1="151.60" y1="373.00" x2="151.60" y2="375.40" stroke="#555" stroke-width="0.8" />
<line x1="151.60" y1="211.30" x2="151.60" y2="213.70" stroke="#555" stroke-width="0.8" />
<text x="151.60" y="383.00" font-size="6.4" text-anchor="middle" font-weight="normal" fill="#141414"  stroke="#141414" stroke-width="0.18">60</text>
<line x1="176.00" y1="373.00" x2="176.00" y2="374.40" stroke="#555" stroke-width="0.8" />
<line x1="176.00" y1="211.30" x2="176.00" y2="212.70" stroke="#555" stroke-width="0.8" />
<line x1="200.40" y1="373.00" x2="200.40" y2="375.40" stroke="#555" stroke-width="0.8" />
<line x1="200.40" y1="211.30" x2="200.40" y2="213.70" stroke="#555" stroke-width="0.8" />
<text x="200.40" y="383.00" font-size="6.4" text-anchor="middle" font-weight="normal" fill="#141414"  stroke="#141414" stroke-width="0.18">65</text>
<line x1="224.30" y1="373.00" x2="224.30" y2="375.40" stroke="#555" stroke-width="0.8" />
<line x1="224.30" y1="211.30" x2="224.30" y2="213.70" stroke="#555" stroke-width="0.8" />
<text x="224.30" y="383.00" font-size="6.4" text-anchor="middle" font-weight="normal" fill="#141414"  stroke="#141414" stroke-width="0.18">75</text>
<line x1="248.65" y1="373.00" x2="248.65" y2="374.40" stroke="#555" stroke-width="0.8" />
<line x1="248.65" y1="211.30" x2="248.65" y2="212.70" stroke="#555" stroke-width="0.8" />
<line x1="273.00" y1="373.00" x2="273.00" y2="375.40" stroke="#555" stroke-width="0.8" />
<line x1="273.00" y1="211.30" x2="273.00" y2="213.70" stroke="#555" stroke-width="0.8" />
<text x="271.50" y="383.00" font-size="6.4" text-anchor="middle" font-weight="normal" fill="#141414"  stroke="#141414" stroke-width="0.18">80</text>
<line x1="51.40" y1="230.20" x2="53.80" y2="230.20" stroke="#555" stroke-width="0.8" />
<line x1="270.90" y1="230.20" x2="273.30" y2="230.20" stroke="#555" stroke-width="0.8" />
<text x="49.30" y="232.50" font-size="6.4" text-anchor="end" font-weight="normal" fill="#141414"  stroke="#141414" stroke-width="0.18">900</text>
<line x1="51.40" y1="285.30" x2="53.80" y2="285.30" stroke="#555" stroke-width="0.8" />
<line x1="270.90" y1="285.30" x2="273.30" y2="285.30" stroke="#555" stroke-width="0.8" />
<text x="49.30" y="287.60" font-size="6.4" text-anchor="end" font-weight="normal" fill="#141414"  stroke="#141414" stroke-width="0.18">700</text>
<line x1="51.40" y1="344.60" x2="53.80" y2="344.60" stroke="#555" stroke-width="0.8" />
<line x1="270.90" y1="344.60" x2="273.30" y2="344.60" stroke="#555" stroke-width="0.8" />
<text x="49.30" y="346.90" font-size="6.4" text-anchor="end" font-weight="normal" fill="#141414"  stroke="#141414" stroke-width="0.18">200</text>
<text x="35.20" y="292.30" font-size="7.47" text-anchor="middle" font-weight="normal" fill="#141414" transform="rotate(-90 35.20 292.30)"  stroke="#141414" stroke-width="0.18">Preheating temperature, °C</text>
<text x="163.20" y="395.10" font-size="7.5" text-anchor="middle" font-weight="normal" fill="#141414"  stroke="#141414" stroke-width="0.18">Energy density, J/mm<tspan font-size="5" dy="-2.7">3</tspan></text>
<text x="22.30" y="210.40" font-size="12.5" text-anchor="start" font-weight="bold" fill="#111" stroke="#111" stroke-width="0.35">(c)</text>
<polygon points="106.59,221.10 110.19,219.03 110.19,223.17" fill="#ff8a10"/>
<circle cx="108.66" cy="225.50" r="2.00" fill="#e03af0"/>
<circle cx="108.66" cy="239.60" r="2.00" fill="#e03af0"/>
<polygon points="106.59,280.10 110.19,278.03 110.19,282.17" fill="#ff8a10"/>
<polygon points="108.66,287.47 110.73,283.87 106.59,283.87" fill="#1040ff"/>
<polygon points="106.59,294.20 110.19,292.13 110.19,296.27" fill="#ff8a10"/>
<polygon points="148.07,229.90 151.67,227.83 151.67,231.97" fill="#ff8a10"/>
<polygon points="196.87,229.90 200.47,227.83 200.47,231.97" fill="#ff8a10"/>
<polygon points="249.50,229.90 253.10,227.83 253.10,231.97" fill="#ff8a10"/>
<polygon points="150.14,287.47 152.21,283.87 148.07,283.87" fill="#1040ff"/>
<polygon points="198.94,282.93 201.01,286.53 196.87,286.53" fill="#0a9a1a"/>
<polygon points="251.57,282.93 253.64,286.53 249.50,286.53" fill="#0a9a1a"/>
<path d="M100.71,343.60 L103.91,346.80 M100.71,346.80 L103.91,343.60" stroke="#f0503a" stroke-width="0.9" fill="none"/>
<path d="M103.15,344.00 L106.35,347.20 M103.15,347.20 L106.35,344.00" stroke="#f0503a" stroke-width="0.9" fill="none"/>
<path d="M105.10,342.60 L108.30,345.80 M105.10,345.80 L108.30,342.60" stroke="#f0503a" stroke-width="0.9" fill="none"/>
<path d="M107.06,343.00 L110.26,346.20 M107.06,346.20 L110.26,343.00" stroke="#f0503a" stroke-width="0.9" fill="none"/>
<path d="M109.50,341.80 L112.70,345.00 M109.50,345.00 L112.70,341.80" stroke="#f0503a" stroke-width="0.9" fill="none"/>
<path d="M148.54,343.10 L151.74,346.30 M148.54,346.30 L151.74,343.10" stroke="#f0503a" stroke-width="0.9" fill="none"/>
<path d="M197.34,343.10 L200.54,346.30 M197.34,346.30 L200.54,343.10" stroke="#f0503a" stroke-width="0.9" fill="none"/>
<path d="M249.97,343.10 L253.17,346.30 M249.97,346.30 L253.17,343.10" stroke="#f0503a" stroke-width="0.9" fill="none"/>
<rect x="195.2" y="293.1" width="46.6" height="43.7" fill="#fff" stroke="#999" stroke-width="0.7"/>
<circle cx="203.40" cy="298.10" r="2.00" fill="#e03af0"/>
<text x="213.50" y="300.50" font-size="7.0" text-anchor="start" font-weight="normal" fill="#111"  stroke="#111" stroke-width="0.18">&lt;97%</text>
<polygon points="201.33,306.55 204.93,304.48 204.93,308.62" fill="#ff8a10"/>
<text x="213.50" y="308.95" font-size="7.0" text-anchor="start" font-weight="normal" fill="#111"  stroke="#111" stroke-width="0.18">97-98%</text>
<polygon points="203.40,317.07 205.47,313.47 201.33,313.47" fill="#1040ff"/>
<text x="213.50" y="317.40" font-size="7.0" text-anchor="start" font-weight="normal" fill="#111"  stroke="#111" stroke-width="0.18">98-99%</text>
<polygon points="203.40,321.38 205.47,324.98 201.33,324.98" fill="#0a9a1a"/>
<text x="213.50" y="325.85" font-size="7.0" text-anchor="start" font-weight="normal" fill="#111"  stroke="#111" stroke-width="0.18">&gt;99%</text>
<path d="M201.90,330.40 L204.90,333.40 M201.90,333.40 L204.90,330.40" stroke="#f0503a" stroke-width="0.9" fill="none"/>
<text x="213.50" y="334.30" font-size="7.0" text-anchor="start" font-weight="normal" fill="#111"  stroke="#111" stroke-width="0.18">Cracking</text>
<line x1="326.24" y1="210.60" x2="326.24" y2="373.00" stroke="#f1f1f1" stroke-width="0.6" />
<line x1="348.31" y1="210.60" x2="348.31" y2="373.00" stroke="#f1f1f1" stroke-width="0.6" />
<line x1="370.39" y1="210.60" x2="370.39" y2="373.00" stroke="#f1f1f1" stroke-width="0.6" />
<line x1="392.46" y1="210.60" x2="392.46" y2="373.00" stroke="#f1f1f1" stroke-width="0.6" />
<line x1="414.54" y1="210.60" x2="414.54" y2="373.00" stroke="#f1f1f1" stroke-width="0.6" />
<line x1="436.61" y1="210.60" x2="436.61" y2="373.00" stroke="#f1f1f1" stroke-width="0.6" />
<line x1="458.69" y1="210.60" x2="458.69" y2="373.00" stroke="#f1f1f1" stroke-width="0.6" />
<line x1="480.76" y1="210.60" x2="480.76" y2="373.00" stroke="#f1f1f1" stroke-width="0.6" />
<line x1="502.84" y1="210.60" x2="502.84" y2="373.00" stroke="#f1f1f1" stroke-width="0.6" />
<line x1="524.91" y1="210.60" x2="524.91" y2="373.00" stroke="#f1f1f1" stroke-width="0.6" />
<rect x="315.3" y="210.6" width="219.99999999999994" height="162.4" fill="none" stroke="#555" stroke-width="0.8"/>
<rect x="314.30" y="244.20" width="2" height="3.6" fill="#fff"/>
<line x1="312.70" y1="245.60" x2="317.90" y2="243.40" stroke="#555" stroke-width="0.8" />
<line x1="312.70" y1="248.60" x2="317.90" y2="246.40" stroke="#555" stroke-width="0.8" />
<rect x="534.30" y="244.20" width="2" height="3.6" fill="#fff"/>
<line x1="532.70" y1="245.60" x2="537.90" y2="243.40" stroke="#555" stroke-width="0.8" />
<line x1="532.70" y1="248.60" x2="537.90" y2="246.40" stroke="#555" stroke-width="0.8" />
<rect x="314.30" y="341.40" width="2" height="3.6" fill="#fff"/>
<line x1="312.70" y1="342.80" x2="317.90" y2="340.60" stroke="#555" stroke-width="0.8" />
<line x1="312.70" y1="345.80" x2="317.90" y2="343.60" stroke="#555" stroke-width="0.8" />
<rect x="534.30" y="341.40" width="2" height="3.6" fill="#fff"/>
<line x1="532.70" y1="342.80" x2="537.90" y2="340.60" stroke="#555" stroke-width="0.8" />
<line x1="532.70" y1="345.80" x2="537.90" y2="343.60" stroke="#555" stroke-width="0.8" />
<line x1="315.20" y1="373.00" x2="315.20" y2="375.40" stroke="#555" stroke-width="0.8" />
<line x1="315.20" y1="210.60" x2="315.20" y2="213.00" stroke="#555" stroke-width="0.8" />
<text x="315.20" y="383.00" font-size="6.4" text-anchor="middle" font-weight="normal" fill="#141414"  stroke="#141414" stroke-width="0.18">30</text>
<line x1="326.24" y1="373.00" x2="326.24" y2="374.40" stroke="#555" stroke-width="0.8" />
<line x1="326.24" y1="210.60" x2="326.24" y2="212.00" stroke="#555" stroke-width="0.8" />
<line x1="337.27" y1="373.00" x2="337.27" y2="375.40" stroke="#555" stroke-width="0.8" />
<line x1="337.27" y1="210.60" x2="337.27" y2="213.00" stroke="#555" stroke-width="0.8" />
<text x="337.27" y="383.00" font-size="6.4" text-anchor="middle" font-weight="normal" fill="#141414"  stroke="#141414" stroke-width="0.18">35</text>
<line x1="348.31" y1="373.00" x2="348.31" y2="374.40" stroke="#555" stroke-width="0.8" />
<line x1="348.31" y1="210.60" x2="348.31" y2="212.00" stroke="#555" stroke-width="0.8" />
<line x1="359.35" y1="373.00" x2="359.35" y2="375.40" stroke="#555" stroke-width="0.8" />
<line x1="359.35" y1="210.60" x2="359.35" y2="213.00" stroke="#555" stroke-width="0.8" />
<text x="359.35" y="383.00" font-size="6.4" text-anchor="middle" font-weight="normal" fill="#141414"  stroke="#141414" stroke-width="0.18">40</text>
<line x1="370.39" y1="373.00" x2="370.39" y2="374.40" stroke="#555" stroke-width="0.8" />
<line x1="370.39" y1="210.60" x2="370.39" y2="212.00" stroke="#555" stroke-width="0.8" />
<line x1="381.42" y1="373.00" x2="381.42" y2="375.40" stroke="#555" stroke-width="0.8" />
<line x1="381.42" y1="210.60" x2="381.42" y2="213.00" stroke="#555" stroke-width="0.8" />
<text x="381.42" y="383.00" font-size="6.4" text-anchor="middle" font-weight="normal" fill="#141414"  stroke="#141414" stroke-width="0.18">45</text>
<line x1="392.46" y1="373.00" x2="392.46" y2="374.40" stroke="#555" stroke-width="0.8" />
<line x1="392.46" y1="210.60" x2="392.46" y2="212.00" stroke="#555" stroke-width="0.8" />
<line x1="403.50" y1="373.00" x2="403.50" y2="375.40" stroke="#555" stroke-width="0.8" />
<line x1="403.50" y1="210.60" x2="403.50" y2="213.00" stroke="#555" stroke-width="0.8" />
<text x="403.50" y="383.00" font-size="6.4" text-anchor="middle" font-weight="normal" fill="#141414"  stroke="#141414" stroke-width="0.18">50</text>
<line x1="414.54" y1="373.00" x2="414.54" y2="374.40" stroke="#555" stroke-width="0.8" />
<line x1="414.54" y1="210.60" x2="414.54" y2="212.00" stroke="#555" stroke-width="0.8" />
<line x1="425.57" y1="373.00" x2="425.57" y2="375.40" stroke="#555" stroke-width="0.8" />
<line x1="425.57" y1="210.60" x2="425.57" y2="213.00" stroke="#555" stroke-width="0.8" />
<text x="425.57" y="383.00" font-size="6.4" text-anchor="middle" font-weight="normal" fill="#141414"  stroke="#141414" stroke-width="0.18">55</text>
<line x1="436.61" y1="373.00" x2="436.61" y2="374.40" stroke="#555" stroke-width="0.8" />
<line x1="436.61" y1="210.60" x2="436.61" y2="212.00" stroke="#555" stroke-width="0.8" />
<line x1="447.65" y1="373.00" x2="447.65" y2="375.40" stroke="#555" stroke-width="0.8" />
<line x1="447.65" y1="210.60" x2="447.65" y2="213.00" stroke="#555" stroke-width="0.8" />
<text x="447.65" y="383.00" font-size="6.4" text-anchor="middle" font-weight="normal" fill="#141414"  stroke="#141414" stroke-width="0.18">60</text>
<line x1="458.69" y1="373.00" x2="458.69" y2="374.40" stroke="#555" stroke-width="0.8" />
<line x1="458.69" y1="210.60" x2="458.69" y2="212.00" stroke="#555" stroke-width="0.8" />
<line x1="469.73" y1="373.00" x2="469.73" y2="375.40" stroke="#555" stroke-width="0.8" />
<line x1="469.73" y1="210.60" x2="469.73" y2="213.00" stroke="#555" stroke-width="0.8" />
<text x="469.73" y="383.00" font-size="6.4" text-anchor="middle" font-weight="normal" fill="#141414"  stroke="#141414" stroke-width="0.18">65</text>
<line x1="480.76" y1="373.00" x2="480.76" y2="374.40" stroke="#555" stroke-width="0.8" />
<line x1="480.76" y1="210.60" x2="480.76" y2="212.00" stroke="#555" stroke-width="0.8" />
<line x1="491.80" y1="373.00" x2="491.80" y2="375.40" stroke="#555" stroke-width="0.8" />
<line x1="491.80" y1="210.60" x2="491.80" y2="213.00" stroke="#555" stroke-width="0.8" />
<text x="491.80" y="383.00" font-size="6.4" text-anchor="middle" font-weight="normal" fill="#141414"  stroke="#141414" stroke-width="0.18">70</text>
<line x1="502.84" y1="373.00" x2="502.84" y2="374.40" stroke="#555" stroke-width="0.8" />
<line x1="502.84" y1="210.60" x2="502.84" y2="212.00" stroke="#555" stroke-width="0.8" />
<line x1="513.88" y1="373.00" x2="513.88" y2="375.40" stroke="#555" stroke-width="0.8" />
<line x1="513.88" y1="210.60" x2="513.88" y2="213.00" stroke="#555" stroke-width="0.8" />
<text x="513.88" y="383.00" font-size="6.4" text-anchor="middle" font-weight="normal" fill="#141414"  stroke="#141414" stroke-width="0.18">75</text>
<line x1="524.91" y1="373.00" x2="524.91" y2="374.40" stroke="#555" stroke-width="0.8" />
<line x1="524.91" y1="210.60" x2="524.91" y2="212.00" stroke="#555" stroke-width="0.8" />
<line x1="535.95" y1="373.00" x2="535.95" y2="375.40" stroke="#555" stroke-width="0.8" />
<line x1="535.95" y1="210.60" x2="535.95" y2="213.00" stroke="#555" stroke-width="0.8" />
<text x="535.35" y="383.00" font-size="6.4" text-anchor="middle" font-weight="normal" fill="#141414"  stroke="#141414" stroke-width="0.18">80</text>
<line x1="312.90" y1="216.40" x2="315.30" y2="216.40" stroke="#555" stroke-width="0.8" />
<line x1="532.90" y1="216.40" x2="535.30" y2="216.40" stroke="#555" stroke-width="0.8" />
<text x="310.80" y="218.70" font-size="6.4" text-anchor="end" font-weight="normal" fill="#141414"  stroke="#141414" stroke-width="0.18">980</text>
<line x1="312.90" y1="263.40" x2="315.30" y2="263.40" stroke="#555" stroke-width="0.8" />
<line x1="532.90" y1="263.40" x2="535.30" y2="263.40" stroke="#555" stroke-width="0.8" />
<text x="310.80" y="265.70" font-size="6.4" text-anchor="end" font-weight="normal" fill="#141414"  stroke="#141414" stroke-width="0.18">700</text>
<line x1="312.90" y1="294.30" x2="315.30" y2="294.30" stroke="#555" stroke-width="0.8" />
<line x1="532.90" y1="294.30" x2="535.30" y2="294.30" stroke="#555" stroke-width="0.8" />
<text x="310.80" y="296.60" font-size="6.4" text-anchor="end" font-weight="normal" fill="#141414"  stroke="#141414" stroke-width="0.18">600</text>
<line x1="312.90" y1="326.10" x2="315.30" y2="326.10" stroke="#555" stroke-width="0.8" />
<line x1="532.90" y1="326.10" x2="535.30" y2="326.10" stroke="#555" stroke-width="0.8" />
<text x="310.80" y="328.40" font-size="6.4" text-anchor="end" font-weight="normal" fill="#141414"  stroke="#141414" stroke-width="0.18">500</text>
<line x1="312.90" y1="363.40" x2="315.30" y2="363.40" stroke="#555" stroke-width="0.8" />
<line x1="532.90" y1="363.40" x2="535.30" y2="363.40" stroke="#555" stroke-width="0.8" />
<text x="310.80" y="365.70" font-size="6.4" text-anchor="end" font-weight="normal" fill="#141414"  stroke="#141414" stroke-width="0.18">200</text>
<text x="297.00" y="291.60" font-size="7.5" text-anchor="middle" font-weight="normal" fill="#141414" transform="rotate(-90 297.00 291.60)"  stroke="#141414" stroke-width="0.18">Preheating temperature, °C</text>
<text x="425.20" y="395.10" font-size="7.5" text-anchor="middle" font-weight="normal" fill="#141414"  stroke="#141414" stroke-width="0.18">Energy density, J/mm<tspan font-size="5" dy="-2.7">3</tspan></text>
<text x="283.20" y="210.40" font-size="12.5" text-anchor="start" font-weight="bold" fill="#111" stroke="#111" stroke-width="0.35">(d)</text>
<polygon points="329.31,216.40 332.91,214.33 332.91,218.47" fill="#ff8a10"/>
<polygon points="343.44,216.40 347.03,214.33 347.03,218.47" fill="#ff8a10"/>
<circle cx="363.46" cy="216.40" r="2.00" fill="#e03af0"/>
<circle cx="384.66" cy="216.40" r="2.00" fill="#e03af0"/>
<circle cx="411.15" cy="216.40" r="2.00" fill="#e03af0"/>
<polygon points="361.09,263.40 364.69,261.33 364.69,265.47" fill="#ff8a10"/>
<polygon points="384.66,260.93 386.73,264.53 382.59,264.53" fill="#0a9a1a"/>
<polygon points="408.78,263.40 412.38,261.33 412.38,265.47" fill="#ff8a10"/>
<polygon points="424.39,260.93 426.46,264.53 422.32,264.53" fill="#0a9a1a"/>
<circle cx="457.06" cy="263.40" r="2.00" fill="#e03af0"/>
<polygon points="468.54,265.47 470.61,261.87 466.47,261.87" fill="#1040ff"/>
<polygon points="497.08,263.40 500.68,261.33 500.68,265.47" fill="#ff8a10"/>
<polygon points="523.57,263.40 527.17,261.33 527.17,265.47" fill="#ff8a10"/>
<polygon points="361.09,294.30 364.69,292.23 364.69,296.37" fill="#ff8a10"/>
<polygon points="384.66,291.83 386.73,295.43 382.59,295.43" fill="#0a9a1a"/>
<polygon points="408.78,294.30 412.38,292.23 412.38,296.37" fill="#ff8a10"/>
<polygon points="422.02,294.30 425.62,292.23 425.62,296.37" fill="#ff8a10"/>
<polygon points="444.10,294.30 447.70,292.23 447.70,296.37" fill="#ff8a10"/>
<polygon points="454.69,294.30 458.29,292.23 458.29,296.37" fill="#ff8a10"/>
<circle cx="468.54" cy="294.30" r="2.00" fill="#e03af0"/>
<polygon points="497.08,294.30 500.68,292.23 500.68,296.37" fill="#ff8a10"/>
<polygon points="523.57,294.30 527.17,292.23 527.17,296.37" fill="#ff8a10"/>
<path d="M361.86,324.50 L365.06,327.70 M361.86,327.70 L365.06,324.50" stroke="#f0503a" stroke-width="0.9" fill="none"/>
<path d="M383.06,324.50 L386.26,327.70 M383.06,327.70 L386.26,324.50" stroke="#f0503a" stroke-width="0.9" fill="none"/>
<path d="M409.55,324.50 L412.75,327.70 M409.55,327.70 L412.75,324.50" stroke="#f0503a" stroke-width="0.9" fill="none"/>
<path d="M444.87,324.50 L448.07,327.70 M444.87,327.70 L448.07,324.50" stroke="#f0503a" stroke-width="0.9" fill="none"/>
<path d="M466.94,324.50 L470.14,327.70 M466.94,327.70 L470.14,324.50" stroke="#f0503a" stroke-width="0.9" fill="none"/>
<path d="M361.86,361.80 L365.06,365.00 M361.86,365.00 L365.06,361.80" stroke="#f0503a" stroke-width="0.9" fill="none"/>
<path d="M383.06,361.80 L386.26,365.00 M383.06,365.00 L386.26,361.80" stroke="#f0503a" stroke-width="0.9" fill="none"/>
<path d="M409.55,361.80 L412.75,365.00 M409.55,365.00 L412.75,361.80" stroke="#f0503a" stroke-width="0.9" fill="none"/>
<path d="M444.87,361.80 L448.07,365.00 M444.87,365.00 L448.07,361.80" stroke="#f0503a" stroke-width="0.9" fill="none"/>
<path d="M466.94,361.80 L470.14,365.00 M466.94,365.00 L470.14,361.80" stroke="#f0503a" stroke-width="0.9" fill="none"/>
<rect x="477.2" y="314.2" width="55.2" height="44.5" fill="#fff" stroke="#999" stroke-width="0.7"/>
<polygon points="486.40,322.37 488.47,318.77 484.33,318.77" fill="#1040ff"/>
<text x="495.70" y="322.80" font-size="6.9" text-anchor="start" font-weight="normal" fill="#111"  stroke="#111" stroke-width="0.18">98-99%</text>
<circle cx="486.40" cy="328.55" r="2.00" fill="#e03af0"/>
<text x="495.70" y="331.05" font-size="6.9" text-anchor="start" font-weight="normal" fill="#111"  stroke="#111" stroke-width="0.18">99.0-99.5%</text>
<polygon points="484.33,336.80 487.93,334.73 487.93,338.87" fill="#ff8a10"/>
<text x="495.70" y="339.30" font-size="6.9" text-anchor="start" font-weight="normal" fill="#111"  stroke="#111" stroke-width="0.18">99.5-99.9%</text>
<polygon points="486.40,342.98 488.47,346.58 484.33,346.58" fill="#0a9a1a"/>
<text x="495.70" y="347.55" font-size="6.9" text-anchor="start" font-weight="normal" fill="#111"  stroke="#111" stroke-width="0.18">&gt;99.9%</text>
<path d="M484.90,351.80 L487.90,354.80 M484.90,354.80 L487.90,351.80" stroke="#f0503a" stroke-width="0.9" fill="none"/>
<text x="495.70" y="355.80" font-size="6.9" text-anchor="start" font-weight="normal" fill="#111"  stroke="#111" stroke-width="0.18">Cracking</text>
</svg>
</body></html>
